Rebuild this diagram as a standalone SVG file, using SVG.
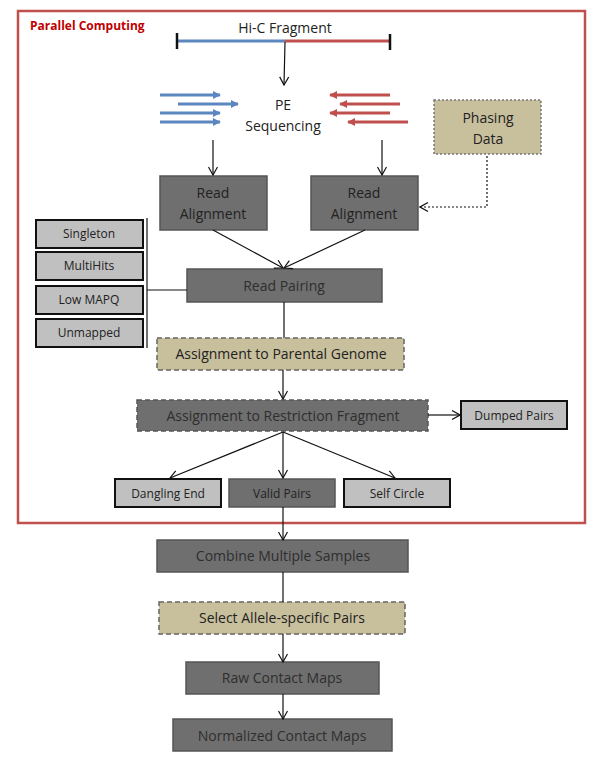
<svg xmlns="http://www.w3.org/2000/svg" width="607" height="764" viewBox="0 0 607 764">
<style>
text{font-family:"Open Sans","Liberation Sans",sans-serif;text-anchor:middle}
.dk{fill:#6f6f6f;stroke:#555;stroke-width:1.5}
.tan{fill:#c8bf9d;stroke:#666;stroke-width:1.5;stroke-dasharray:5,3}
.dkd{fill:#6f6f6f;stroke:#555;stroke-width:1.5;stroke-dasharray:5,3}
.lt{fill:#c0c0c0;stroke:#111;stroke-width:2}
.t{font-size:14px;fill:#222}
.tg{font-size:14px;fill:#2e2e2e}
.ts{font-size:12px;fill:#222}
.c{stroke:#111;stroke-width:1.2;fill:none}
.a{marker-end:url(#ah)}
</style>
<defs>
<marker id="ah" viewBox="0 0 10 10" refX="9" refY="5" markerWidth="10" markerHeight="10" markerUnits="userSpaceOnUse" orient="auto"><path d="M1,0.5 L9,5 L1,9.5" fill="none" stroke="#111" stroke-width="1.2"/></marker>
<marker id="bh" viewBox="0 0 10 10" refX="9" refY="5" markerWidth="8" markerHeight="8" markerUnits="userSpaceOnUse" orient="auto"><path d="M0,0 L10,5 L0,10z" fill="#5b86c0"/></marker>
<marker id="rh" viewBox="0 0 10 10" refX="9" refY="5" markerWidth="8" markerHeight="8" markerUnits="userSpaceOnUse" orient="auto"><path d="M0,0 L10,5 L0,10z" fill="#c0504d"/></marker>
</defs>
<rect width="607" height="764" fill="#fff"/>
<rect x="18" y="11" width="567" height="512" fill="none" stroke="#c0504d" stroke-width="2.5"/>
<text x="30" y="30" style="text-anchor:start;font-size:12px;font-weight:bold;fill:#c00000">Parallel Computing</text>
<g id="hic">
<text x="285" y="33" class="t">Hi-C Fragment</text>
<line x1="177" y1="41" x2="285" y2="41" stroke="#5b86c0" stroke-width="3"/>
<line x1="285" y1="41" x2="390" y2="41" stroke="#c0504d" stroke-width="3"/>
<line x1="177" y1="33" x2="177" y2="49" stroke="#111" stroke-width="2.5"/>
<line x1="390" y1="34" x2="390" y2="50" stroke="#111" stroke-width="2.5"/>
</g>
<g id="pe">
<text x="283" y="110" class="t">PE</text>
<text x="283" y="131" class="t">Sequencing</text>
<g stroke="#5b86c0" stroke-width="3" marker-end="url(#bh)">
<line x1="160" y1="95" x2="220" y2="95"/><line x1="178" y1="104" x2="238" y2="104"/>
<line x1="160" y1="113" x2="220" y2="113"/><line x1="160" y1="122" x2="220" y2="122"/>
</g>
<g stroke="#c0504d" stroke-width="3" marker-end="url(#rh)">
<line x1="390" y1="95" x2="330" y2="95"/><line x1="400" y1="104" x2="340" y2="104"/>
<line x1="390" y1="113" x2="330" y2="113"/><line x1="408" y1="122" x2="348" y2="122"/>
</g>
</g>
<g id="phasing"><rect x="434" y="100" width="107" height="54" fill="#c8bf9d" stroke="#777" stroke-width="1.5" stroke-dasharray="2,2"/>
<text x="488" y="123" class="t">Phasing</text><text x="488" y="144" class="t">Data</text></g>
<g id="ra1"><rect x="160" y="176" width="107" height="54" class="dk"/><text x="213" y="198" class="t">Read</text><text x="213" y="219" class="t">Alignment</text></g>
<g id="ra2"><rect x="311" y="176" width="107" height="54" class="dk"/><text x="364" y="198" class="t">Read</text><text x="364" y="219" class="t">Alignment</text></g>
<g id="rp"><rect x="187" y="269" width="195" height="33" class="dk"/><text x="284" y="291" class="tg">Read Pairing</text></g>
<g id="singleton"><rect x="36" y="220" width="107" height="28" class="lt"/><text x="89" y="238" class="ts">Singleton</text></g>
<g id="multihits"><rect x="36" y="252" width="107" height="28" class="lt"/><text x="89" y="270" class="ts">MultiHits</text></g>
<g id="lowmapq"><rect x="36" y="286" width="107" height="28" class="lt"/><text x="89" y="304" class="ts">Low MAPQ</text></g>
<g id="unmapped"><rect x="36" y="319" width="107" height="28" class="lt"/><text x="89" y="337" class="ts">Unmapped</text></g>
<g id="apg"><rect x="157" y="338" width="247" height="32" class="tan"/><text x="281" y="359" class="t">Assignment to Parental Genome</text></g>
<g id="arf"><rect x="137" y="400" width="291" height="31" class="dkd"/><text x="283" y="421" class="tg">Assignment to Restriction Fragment</text></g>
<g id="dumped"><rect x="461" y="401" width="106" height="28" class="lt"/><text x="514" y="420" class="ts">Dumped Pairs</text></g>
<g id="dangling"><rect x="115" y="479" width="106" height="28" class="lt"/><text x="168" y="498" class="ts">Dangling End</text></g>
<g id="valid"><rect x="229" y="479" width="106" height="28" class="dk"/><text x="282" y="498" class="ts">Valid Pairs</text></g>
<g id="self"><rect x="344" y="479" width="106" height="28" class="lt"/><text x="397" y="498" class="ts">Self Circle</text></g>
<g id="combine"><rect x="157" y="540" width="251" height="32" class="dk"/><text x="283" y="561" class="tg">Combine Multiple Samples</text></g>
<g id="select"><rect x="159" y="602" width="246" height="32" class="tan"/><text x="282" y="623" class="t">Select Allele-specific Pairs</text></g>
<g id="raw"><rect x="186" y="662" width="193" height="32" class="dk"/><text x="282" y="683" class="tg">Raw Contact Maps</text></g>
<g id="norm"><rect x="173" y="719" width="219" height="32" class="dk"/><text x="282" y="741" class="tg">Normalized Contact Maps</text></g>
<g id="connectors" class="c">
<line x1="285" y1="42" x2="284" y2="85" class="a"/>
<line x1="213" y1="140" x2="213" y2="175" class="a"/>
<line x1="382" y1="140" x2="382" y2="175" class="a"/>
<polyline points="487,156 487,207 420,207" stroke-dasharray="2,2" class="a"/>
<line x1="213" y1="230" x2="283" y2="268" class="a"/>
<line x1="365" y1="230" x2="284" y2="268" class="a"/>
<line x1="147" y1="218" x2="147" y2="348"/>
<line x1="147" y1="290" x2="187" y2="290"/>
<line x1="284" y1="302" x2="284" y2="338"/>
<line x1="283" y1="370" x2="283" y2="399" class="a"/>
<line x1="428" y1="415" x2="460" y2="415" class="a"/>
<line x1="283" y1="432" x2="170" y2="478" class="a"/>
<line x1="283" y1="432" x2="283" y2="478" class="a"/>
<line x1="283" y1="432" x2="395" y2="478" class="a"/>
<line x1="283" y1="507" x2="283" y2="540" class="a"/>
<line x1="283" y1="572" x2="283" y2="602"/>
<line x1="283" y1="634" x2="283" y2="662" class="a"/>
<line x1="283" y1="694" x2="283" y2="719" class="a"/>
</g>
</svg>
